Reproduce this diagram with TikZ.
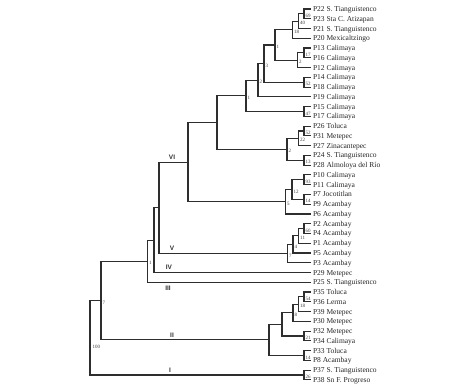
\documentclass[tikz,border=0pt]{standalone}
\usepackage{fontspec}
\setmainfont{Liberation Serif}
\newfontfamily\numfont{Liberation Sans}
\tikzset{
  br/.style={line width=1.1pt, draw=black!82, line join=miter},
  leaf/.style={anchor=west, inner sep=0pt, outer sep=0pt, text height=5pt, text depth=0pt, font=\fontsize{7.5}{8}\selectfont, text=black!85},
  bs/.style={anchor=west, inner sep=0pt, font=\fontsize{5}{5.5}\selectfont, text=black!75},
  grp/.style={inner sep=0pt, font=\numfont\bfseries\fontsize{6.5}{7}\selectfont, text=black!80},
}
\newcommand\lf[3]{\node[leaf] (#1) at (311,{9+9.76*#2}) {\hspace{2pt}#3};}
\begin{document}
\begin{tikzpicture}[x=1pt,y=-1pt]
\path[use as bounding box, fill=white] (0,0) rectangle (474,386);
% leaves
\lf{P22}{0}{P22 S. Tianguistenco}
\lf{P23}{1}{P23 Sta C. Atizapan}
\lf{P21}{2}{P21 S. Tianguistenco}
\lf{P20}{3}{P20 Mexicaltzingo}
\lf{P13}{4}{P13 Calimaya}
\lf{P16}{5}{P16 Calimaya}
\lf{P12}{6}{P12 Calimaya}
\lf{P14}{7}{P14 Calimaya}
\lf{P18}{8}{P18 Calimaya}
\lf{P19}{9}{P19 Calimaya}
\lf{P15}{10}{P15 Calimaya}
\lf{P17}{11}{P17 Calimaya}
\lf{P26}{12}{P26 Toluca}
\lf{P31}{13}{P31 Metepec}
\lf{P27}{14}{P27 Zinacantepec}
\lf{P24}{15}{P24 S. Tianguistenco}
\lf{P28}{16}{P28 Almoloya del Río}
\lf{P10}{17}{P10 Calimaya}
\lf{P11}{18}{P11 Calimaya}
\lf{P7}{19}{P7 Jocotitlan}
\lf{P9}{20}{P9 Acambay}
\lf{P6}{21}{P6 Acambay}
\lf{P2}{22}{P2 Acambay}
\lf{P4}{23}{P4 Acambay}
\lf{P1}{24}{P1 Acambay}
\lf{P5}{25}{P5 Acambay}
\lf{P3}{26}{P3 Acambay}
\lf{P29}{27}{P29 Metepec}
\lf{P25}{28}{P25 S. Tianguistenco}
\lf{P35}{29}{P35 Toluca}
\lf{P36}{30}{P36 Lerma}
\lf{P39}{31}{P39 Metepec}
\lf{P30}{32}{P30 Metepec}
\lf{P32}{33}{P32 Metepec}
\lf{P34}{34}{P34 Calimaya}
\lf{P33}{35}{P33 Toluca}
\lf{P8}{36}{P8 Acambay}
\lf{P37}{37}{P37 S. Tianguistenco}
\lf{P38}{38}{P38 Sn F. Progreso}
% internal nodes
\coordinate (n69) at (304,13.88);
\coordinate (n40) at (298.5,21.2);
\coordinate (n18) at (292.5,29.74);
\coordinate (n17) at (304,52.92);
\coordinate (n2a) at (297.5,60.24);
\coordinate (n1a) at (275,44.99);
\coordinate (n52a) at (304,82.2);
\coordinate (n3) at (264,63.6);
\coordinate (n2b) at (258,80.22);
\coordinate (n47) at (304,111.48);
\coordinate (n1b) at (246,95.85);
\coordinate (n52b) at (304,131.0);
\coordinate (n22) at (298.5,138.32);
\coordinate (n13) at (304,160.28);
\coordinate (n2c) at (287,149.3);
\coordinate (nE) at (217,122.58);
\coordinate (n93) at (304,179.8);
\coordinate (n14a) at (304,199.32);
\coordinate (n12) at (292,189.56);
\coordinate (n5) at (285.5,201.76);
\coordinate (nVI) at (188,162.17);
\coordinate (n60) at (304,228.6);
\coordinate (n11) at (298.5,235.92);
\coordinate (n4) at (293,244.46);
\coordinate (n7V) at (287.5,253.61);
\coordinate (nD) at (159,207.89);
\coordinate (nC) at (154,240.2);
\coordinate (nB) at (147.5,261.24);
\coordinate (n54) at (304,296.92);
\coordinate (n18b) at (298.5,304.24);
\coordinate (n8) at (293,312.78);
\coordinate (n21) at (304,335.96);
\coordinate (nX) at (282,324.37);
\coordinate (n14b) at (304,355.48);
\coordinate (nII) at (269,339.93);
\coordinate (n7) at (101,300.58);
\coordinate (n26) at (304,375.0);
\coordinate (root) at (90,337.8);
% branches
\draw[br] (n69) |- (P22.west); \draw[br] (n69) |- (P23.west);
\draw[br] (n40) |- (n69); \draw[br] (n40) |- (P21.west);
\draw[br] (n18) |- (n40); \draw[br] (n18) |- (P20.west);
\draw[br] (n17) |- (P13.west); \draw[br] (n17) |- (P16.west);
\draw[br] (n2a) |- (n17); \draw[br] (n2a) |- (P12.west);
\draw[br] (n1a) |- (n18); \draw[br] (n1a) |- (n2a);
\draw[br] (n52a) |- (P14.west); \draw[br] (n52a) |- (P18.west);
\draw[br] (n3) |- (n1a); \draw[br] (n3) |- (n52a);
\draw[br] (n2b) |- (n3); \draw[br] (n2b) |- (P19.west);
\draw[br] (n47) |- (P15.west); \draw[br] (n47) |- (P17.west);
\draw[br] (n1b) |- (n2b); \draw[br] (n1b) |- (n47);
\draw[br] (n52b) |- (P26.west); \draw[br] (n52b) |- (P31.west);
\draw[br] (n22) |- (n52b); \draw[br] (n22) |- (P27.west);
\draw[br] (n13) |- (P24.west); \draw[br] (n13) |- (P28.west);
\draw[br] (n2c) |- (n22); \draw[br] (n2c) |- (n13);
\draw[br] (nE) |- (n1b); \draw[br] (nE) |- (n2c);
\draw[br] (n93) |- (P10.west); \draw[br] (n93) |- (P11.west);
\draw[br] (n14a) |- (P7.west); \draw[br] (n14a) |- (P9.west);
\draw[br] (n12) |- (n93); \draw[br] (n12) |- (n14a);
\draw[br] (n5) |- (n12); \draw[br] (n5) |- (P6.west);
\draw[br] (nVI) |- (nE); \draw[br] (nVI) |- (n5);
\draw[br] (n60) |- (P2.west); \draw[br] (n60) |- (P4.west);
\draw[br] (n11) |- (n60); \draw[br] (n11) |- (P1.west);
\draw[br] (n4) |- (n11); \draw[br] (n4) |- (P5.west);
\draw[br] (n7V) |- (n4); \draw[br] (n7V) |- (P3.west);
\draw[br] (nD) |- (nVI); \draw[br] (nD) |- (n7V);
\draw[br] (nC) |- (nD); \draw[br] (nC) |- (P29.west);
\draw[br] (nB) |- (nC); \draw[br] (nB) |- (P25.west);
\draw[br] (n54) |- (P35.west); \draw[br] (n54) |- (P36.west);
\draw[br] (n18b) |- (n54); \draw[br] (n18b) |- (P39.west);
\draw[br] (n8) |- (n18b); \draw[br] (n8) |- (P30.west);
\draw[br] (n21) |- (P32.west); \draw[br] (n21) |- (P34.west);
\draw[br] (nX) |- (n8); \draw[br] (nX) |- (n21);
\draw[br] (n14b) |- (P33.west); \draw[br] (n14b) |- (P8.west);
\draw[br] (nII) |- (nX); \draw[br] (nII) |- (n14b);
\draw[br] (n7) |- (nB); \draw[br] (n7) |- (nII);
\draw[br] (n26) |- (P37.west); \draw[br] (n26) |- (P38.west);
\draw[br] (root) |- (n7); \draw[br] (root) |- (n26);
% bootstrap values
\foreach \c/\t in {n69/69,n40/40,n18/18,n17/17,n2a/2,n1a/1,n52a/52,n3/3,n2b/2,n47/47,n1b/1,n52b/52,n22/22,n13/13,n2c/2,n93/93,n14a/14,n12/12,n5/5,n60/60,n11/11,n4/4,n7V/7,nB/1,n7/7,n54/54,n18b/18,n8/8,n21/21,n14b/14,n26/26}
  \node[bs] (b-\c) at ([xshift=1.5pt,yshift=-2pt]\c) {\t};
\node[bs] (b-root) at ([xshift=2.5pt,yshift=-9pt]root) {100};
% group labels
\node[grp] (gVI) at (172,157.5) {VI};
\node[grp] (gV) at (172,248.5) {V};
\node[grp] (gIV) at (169,267.5) {IV};
\node[grp] (gIII) at (168,288.5) {III};
\node[grp] (gII) at (172,335) {II};
\node[grp] (gI) at (170,370) {I};
\end{tikzpicture}
\end{document}
